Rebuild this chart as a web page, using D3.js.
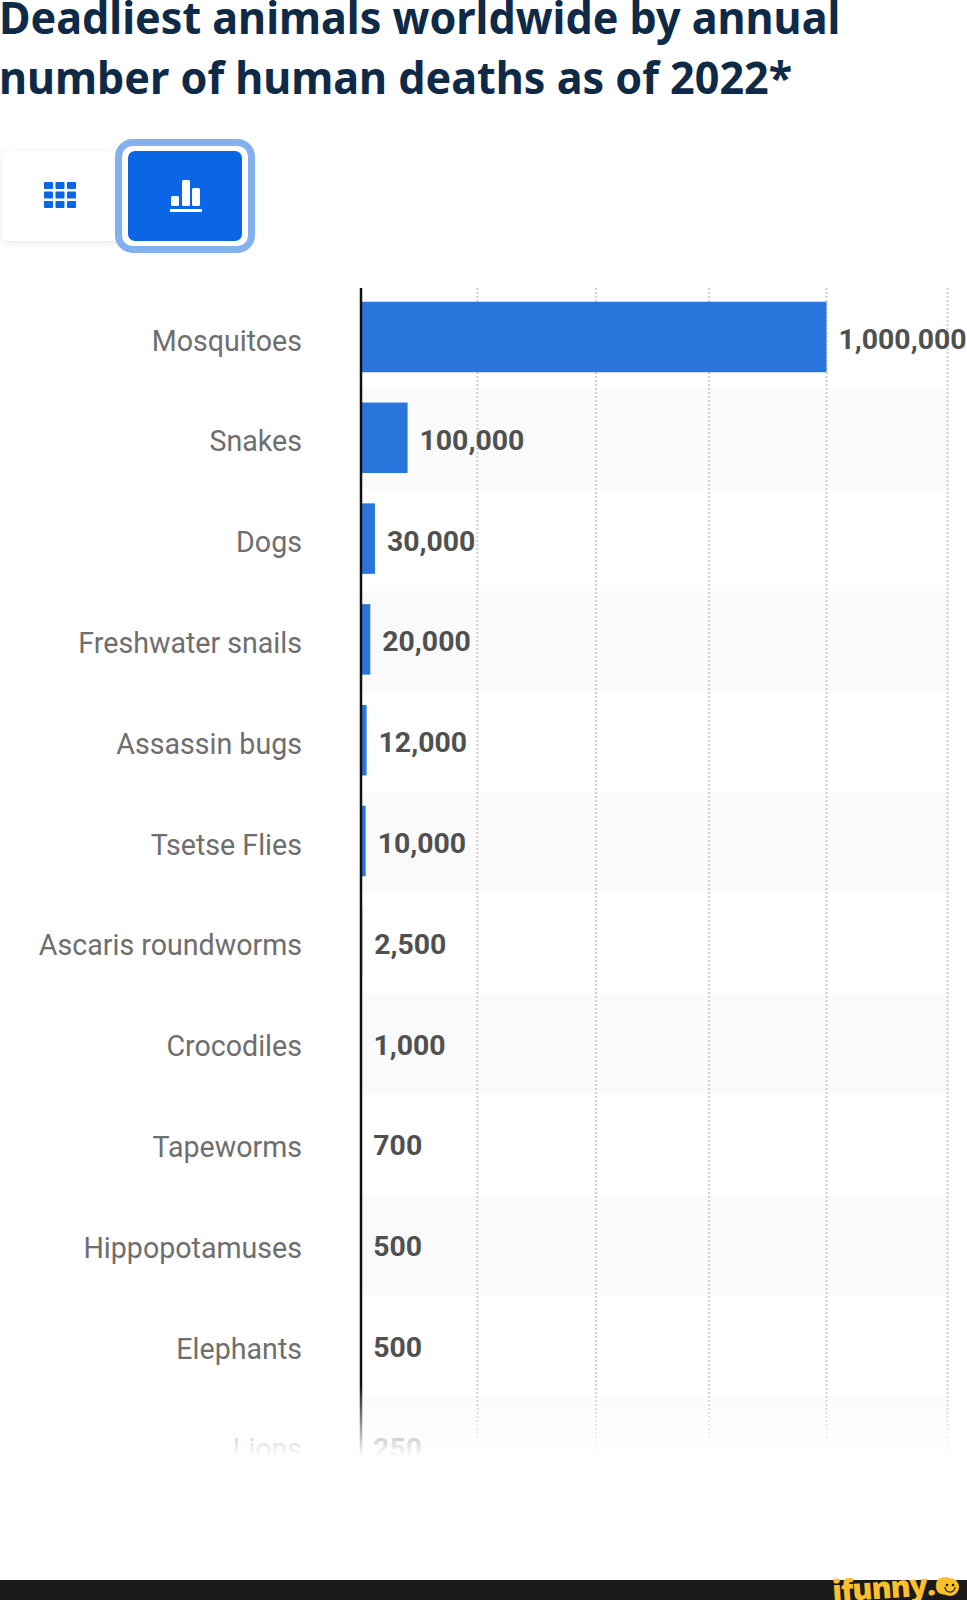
<!DOCTYPE html>
<html>
<head>
<meta charset="utf-8">
<script src="https://cdnjs.cloudflare.com/ajax/libs/d3/7.8.5/d3.min.js"></script>
<style>
html, body { margin: 0; padding: 0; background: #fff; overflow: hidden; }
text { font-family: Roboto, sans-serif; }
</style>
</head>
<body>
<script>
const categories = ["Mosquitoes", "Snakes", "Dogs", "Freshwater snails", "Assassin bugs", "Tsetse Flies",
    "Ascaris roundworms", "Crocodiles", "Tapeworms", "Hippopotamuses", "Elephants", "Lions"];
const deaths = [1000000, 100000, 30000, 20000, 12000, 10000, 2500, 1000, 700, 500, 500, 250];
const gridValues = [250000, 505000, 748000, 1000000, 1260000];
const titleLines = ["Deadliest animals worldwide by annual", "number of human deaths as of 2022*"];

const width = 967, height = 1600;

const svg = d3.select("body").append("svg").attr("width", width).attr("height", height).style("display", "block");

const x = d3.scaleLinear().domain([0, 1000000]).range([361, 826.5]);
const y = d3.scaleBand().domain(categories).range([287.6, 1497.2]);
const barHeight = 70.5;
const fmt = d3.format(",");
const mid = d => y(d) + y.bandwidth() / 2;

// title, cut off by the top edge like the screenshot (the screenshot is a bit squeezed sideways)
svg.selectAll(".title").data(titleLines).enter().append("text")
    .attr("class", "title")
    .attr("transform", (d, i) => "translate(-1," + (34 + i * 60) + ") scale(0.958,1)")
    .style("font-family", "'Noto Sans'")
    .style("font-weight", 700)
    .style("font-size", "45px")
    .attr("fill", "#0f2a46")
    .text(d => d);

// alternating rows
svg.selectAll(".band").data(categories.filter((d, i) => i % 2 == 1)).enter().append("rect")
    .attr("class", "band")
    .attr("x", 361)
    .attr("y", d => y(d) + 1)
    .attr("width", 948 - 361)
    .attr("height", y.bandwidth() - 1)
    .attr("fill", "#fafafa");

// dotted grid
svg.selectAll(".grid").data(gridValues).enter().append("line")
    .attr("class", "grid")
    .attr("x1", d => x(d)).attr("x2", d => x(d))
    .attr("y1", 288).attr("y2", 1460)
    .attr("stroke", "#cdcdcd")
    .attr("stroke-width", 2)
    .attr("stroke-dasharray", "2 2");

svg.selectAll(".bar").data(categories).enter().append("rect")
    .attr("class", "bar")
    .attr("x", x(0))
    .attr("y", d => mid(d) - barHeight / 2 - 1)
    .attr("width", (d, i) => x(deaths[i]) - x(0))
    .attr("height", barHeight)
    .attr("fill", "#2a75dc");

// axis line
svg.append("line")
    .attr("x1", x(0)).attr("x2", x(0))
    .attr("y1", 288).attr("y2", 1460)
    .attr("stroke", "#111")
    .attr("stroke-width", 2.5);

svg.selectAll(".cat").data(categories).enter().append("text")
    .attr("class", "cat")
    .attr("x", 302)
    .attr("y", d => mid(d) + 12.5)
    .attr("text-anchor", "end")
    .attr("fill", "#6e6e6e")
    .style("font-size", "28.6px")
    .text(d => d);

svg.selectAll(".val").data(categories).enter().append("text")
    .attr("class", "val")
    .attr("x", (d, i) => x(deaths[i]) + 12)
    .attr("y", d => mid(d) + 11)
    .attr("fill", "#505050")
    .style("font-size", "28.4px")
    .style("font-weight", 700)
    .text((d, i) => fmt(deaths[i]));

// white fade at the bottom of the list
const defs = svg.append("defs");
const fade = defs.append("linearGradient").attr("id", "fade").attr("x1", 0).attr("x2", 0).attr("y1", 0).attr("y2", 1);
fade.append("stop").attr("offset", 0).attr("stop-color", "#fff").attr("stop-opacity", 0);
fade.append("stop").attr("offset", 1).attr("stop-color", "#fff").attr("stop-opacity", 1);
svg.append("rect").attr("x", 0).attr("y", 1385).attr("width", width).attr("height", 72).attr("fill", "url(#fade)");
svg.append("rect").attr("x", 0).attr("y", 1457).attr("width", width).attr("height", 123).attr("fill", "#fff");

// view toggle buttons
const shadow = defs.append("filter").attr("id", "shadow").attr("x", "-20%").attr("y", "-20%").attr("width", "140%").attr("height", "140%");
shadow.append("feDropShadow").attr("dx", 0).attr("dy", 2).attr("stdDeviation", 3).attr("flood-color", "#000").attr("flood-opacity", 0.1);
svg.append("rect").attr("x", 2).attr("y", 151).attr("width", 118).attr("height", 90).attr("rx", 7)
    .attr("fill", "#fff").attr("filter", "url(#shadow)");
svg.append("rect").attr("x", 118.5).attr("y", 142.5).attr("width", 133).attr("height", 107).attr("rx", 14)
    .attr("fill", "#fff").attr("stroke", "#83b1ee").attr("stroke-width", 7);
svg.append("rect").attr("x", 128).attr("y", 151).attr("width", 114).attr("height", 90).attr("rx", 7).attr("fill", "#0a66e4");

const gridCells = d3.range(9);
svg.selectAll(".cell").data(gridCells).enter().append("rect")
    .attr("class", "cell")
    .attr("x", d => 44 + (d % 3) * 11.5)
    .attr("y", d => 182 + Math.floor(d / 3) * 9.5)
    .attr("width", 9).attr("height", 7).attr("rx", 1)
    .attr("fill", "#0a66e4");

const iconBars = [[171, 196, 8, 10], [182, 180, 8, 26], [192, 188, 8, 18]];
svg.selectAll(".ibar").data(iconBars).enter().append("rect")
    .attr("class", "ibar")
    .attr("x", d => d[0]).attr("y", d => d[1]).attr("width", d => d[2]).attr("height", d => d[3])
    .attr("rx", 1.5).attr("fill", "#fff");
svg.append("rect").attr("x", 170).attr("y", 209).attr("width", 32).attr("height", 3).attr("fill", "#fff");

// watermark bar
svg.append("rect").attr("x", 0).attr("y", 1580).attr("width", width).attr("height", 20).attr("fill", "#1a1a1a");
svg.append("text")
    .attr("x", 833).attr("y", 1602)
    .attr("transform", "rotate(-4 833 1602)")
    .attr("fill", "#fbc02d")
    .style("font-family", "'Open Sans'")
    .style("font-weight", 800)
    .style("font-size", "30px")
    .style("letter-spacing", "-1px")
    .text("ifunny.c");
const smiley = svg.append("g").attr("transform", "translate(950,1587)");
smiley.append("circle").attr("r", 9).attr("fill", "#fbc02d");
smiley.selectAll(".eye").data([-3, 3]).enter().append("circle")
    .attr("class", "eye").attr("cx", d => d).attr("cy", -2).attr("r", 1.3).attr("fill", "#1a1a1a");
smiley.append("path").attr("d", d3.arc()({ innerRadius: 4.5, outerRadius: 5.7, startAngle: Math.PI / 2, endAngle: 3 * Math.PI / 2 })).attr("fill", "#1a1a1a");
</script>
</body>
</html>
